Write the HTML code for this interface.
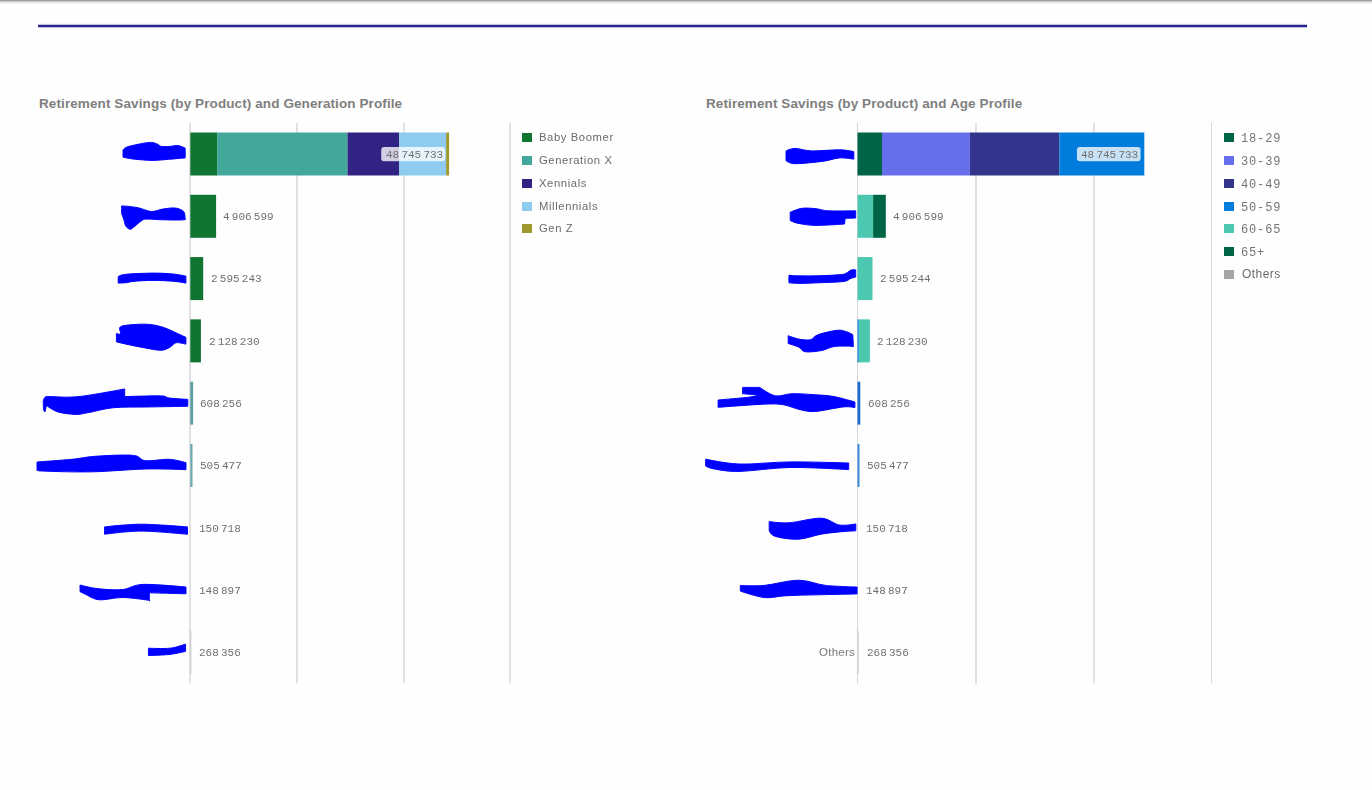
<!DOCTYPE html>
<html><head><meta charset="utf-8">
<style>
html,body{margin:0;padding:0;width:1372px;height:790px;overflow:hidden;background:#fefefe;position:relative;font-family:"Liberation Sans",sans-serif}
.topshade{position:absolute;left:0;top:0;width:1372px;height:5px;background:linear-gradient(#a0a0a0 0px,#a0a0a0 1px,#cac9cc 1px,#cac9cc 2px,#e6e4e8 2px,#e6e4e8 3px,#f4f3f5 3px,#f4f3f5 4px,#fcfbfd 4px,#fcfbfd 5px)}
.navy{position:absolute;left:38px;top:25px;width:1269px;height:2px;background:#23268a;box-shadow:0 1px 1px rgba(35,38,138,0.3),0 -1px 1px rgba(35,38,138,0.3)}
.title{position:absolute;top:96px;font:bold 13.5px "Liberation Sans",sans-serif;letter-spacing:0.1px;color:#7f7f7f;white-space:nowrap;line-height:16px}
.val{position:absolute;margin-top:1px;font:11px "Liberation Mono",monospace;color:#707070;white-space:nowrap;word-spacing:-4.4px;line-height:12px;will-change:transform}
.leg{position:absolute;font:11.25px "Liberation Sans",sans-serif;letter-spacing:0.6px;color:#6a6a6a;white-space:nowrap;line-height:14px;will-change:transform}
.legm{position:absolute;margin-top:2px;font:12px "Liberation Mono",monospace;letter-spacing:0.85px;color:#747474;white-space:nowrap;line-height:14px;will-change:transform}
.sw{position:absolute;width:10px;height:9px}
svg{position:absolute;left:0;top:0}
</style></head><body>
<div class="topshade"></div>
<div class="navy"></div>

<div class="title" style="left:39px">Retirement Savings (by Product) and Generation Profile</div>
<div class="title" style="left:706px">Retirement Savings (by Product) and Age Profile</div>

<svg width="1372" height="790" viewBox="0 0 1372 790">
  <!-- grid left -->
  <g fill="#c6c2ca">
    <rect x="189.5" y="122.8" width="1" height="560.5"/>
    <rect x="296.5" y="122.8" width="1" height="560.5"/>
    <rect x="403.5" y="122.8" width="1" height="560.5"/>
    <rect x="509.5" y="122.8" width="1" height="560.5"/>
    <rect x="975.5" y="122.8" width="1" height="560.5"/>
    <rect x="1093.5" y="122.8" width="1" height="560.5"/>
  </g>
  <g fill="#d8d4dc">
    <rect x="857" y="122.8" width="1" height="560.5"/>
    <rect x="1211" y="122.8" width="1" height="560.5"/>
  </g>
  <!-- left bars -->
  <rect x="190.3" y="132.5" width="26.8" height="43" fill="#117532"/>
  <rect x="217.1" y="132.5" width="130.4" height="43" fill="#43a89b"/>
  <rect x="347.5" y="132.5" width="51.8" height="43" fill="#312384"/>
  <rect x="399.3" y="132.5" width="46.8" height="43" fill="#8ecbee"/>
  <rect x="446.1" y="132.5" width="3" height="43" fill="#a09a2e"/>

  <rect x="190.3" y="194.79" width="25.8" height="43" fill="#117532"/>
  <rect x="190.3" y="257.08" width="12.9" height="43" fill="#117532"/>
  <rect x="190.3" y="319.37" width="10.6" height="43" fill="#117532"/>
  <rect x="190.3" y="381.66" width="2.8" height="43" fill="#5a9e9e"/>
  <rect x="190.3" y="443.95" width="2.2" height="43" fill="#6aaaae"/>
  <rect x="190.3" y="630.82" width="1" height="43" fill="#c8c8c8"/>

  <!-- right bars -->
  <rect x="857.5" y="132.5" width="24.5" height="43" fill="#006546"/>
  <rect x="882" y="132.5" width="87.9" height="43" fill="#676eeb"/>
  <rect x="969.9" y="132.5" width="89.4" height="43" fill="#33348b"/>
  <rect x="1059.3" y="132.5" width="85" height="43" fill="#007cdc"/>

  <rect x="857.5" y="194.79" width="15.6" height="43" fill="#4cc8b1"/>
  <rect x="873.1" y="194.79" width="12.7" height="43" fill="#006546"/>
  <rect x="857.5" y="257.08" width="15" height="43" fill="#4cc8b1"/>
  <rect x="857.5" y="319.37" width="1.3" height="43" fill="#007cdc"/>
  <rect x="858.8" y="319.37" width="11.1" height="43" fill="#4cc8b1"/>
  <rect x="857.5" y="381.66" width="2.8" height="43" fill="#1a6fcf"/>
  <rect x="857.5" y="443.95" width="2" height="43" fill="#3a8ad8"/>
  <rect x="857.5" y="630.82" width="1.2" height="43" fill="#cfcfcf"/>

  <!-- scribbles -->
  <g id="scr" fill="#0000ff" stroke="#0000ff" stroke-width="1" stroke-linejoin="round">
  <path d="M123.0,150.2 C123.0,150.2 123.6,148.0 127.9,146.7 C132.2,145.4 143.8,143.0 148.7,142.5 C153.5,142.0 154.9,143.2 157.0,143.9 C159.1,144.6 159.2,146.0 161.3,146.4 C163.4,146.8 166.8,146.5 169.6,146.4 C172.4,146.3 175.4,145.3 178.0,145.6 C180.6,145.9 185.2,148.1 185.2,148.1 C185.2,148.1 185.2,157.9 185.2,157.9 C185.2,157.9 175.0,158.8 169.6,159.2 C164.2,159.6 158.7,160.4 152.9,160.4 C147.1,160.4 139.8,159.7 134.8,159.2 C129.8,158.7 123.0,157.2 123.0,157.2 C123.0,157.2 123.0,150.2 123.0,150.2Z"/>
  <path d="M121.6,205.9 C121.6,205.9 125.0,206.0 127.9,206.3 C130.8,206.7 135.1,207.1 139.0,208.0 C142.9,208.9 147.6,211.3 151.5,211.5 C155.4,211.7 158.8,209.7 162.7,209.1 C166.6,208.5 171.7,207.6 175.2,208.0 C178.7,208.4 182.0,209.9 183.6,211.5 C185.2,213.1 185.0,217.7 185.0,217.7 C185.0,217.7 187.3,219.5 183.6,219.8 C179.9,220.2 168.7,219.9 162.7,219.8 C156.7,219.7 150.9,219.0 147.4,219.1 C143.9,219.2 144.1,219.1 141.8,220.5 C139.5,221.9 135.4,226.1 133.4,227.5 C131.4,228.9 131.3,229.4 130.0,229.2 C128.7,229.0 126.8,227.8 125.8,226.1 C124.8,224.4 124.4,221.2 123.7,219.1 C123.0,217.0 121.6,213.6 121.6,213.6 C121.6,213.6 121.6,205.9 121.6,205.9Z"/>
  <path d="M118.2,276.6 C118.2,276.6 120.0,274.9 125.8,274.3 C131.6,273.7 145.3,273.2 153.2,273.1 C161.0,273.1 167.4,273.5 172.9,274.0 C178.4,274.5 185.9,276.1 185.9,276.1 C185.9,276.1 185.9,283.1 185.9,283.1 C185.9,283.1 178.4,281.6 172.9,281.2 C167.4,280.8 159.5,280.4 153.2,280.4 C146.9,280.4 139.6,280.8 135.0,281.2 C130.4,281.6 128.6,282.4 125.8,282.7 C123.0,283.0 118.2,283.1 118.2,283.1 C118.2,283.1 118.2,276.6 118.2,276.6Z"/>
  <path d="M120.5,326.7 C122.9,325.2 130.1,324.9 135.0,324.5 C139.9,324.1 145.4,324.0 150.2,324.5 C155.0,325.0 159.5,326.1 163.8,327.5 C168.1,328.9 172.3,331.2 176.0,332.8 C179.7,334.4 185.9,337.4 185.9,337.4 C185.9,337.4 185.9,344.2 185.9,344.2 C185.9,344.2 178.7,342.2 176.0,342.7 C173.3,343.2 172.4,346.0 169.9,347.3 C167.4,348.6 164.9,350.2 160.8,350.3 C156.8,350.4 150.2,348.8 145.6,348.0 C141.0,347.2 138.3,346.7 133.4,345.7 C128.5,344.7 116.4,341.9 116.4,341.9 C116.4,341.9 116.4,333.6 116.4,333.6 C116.4,333.6 119.8,334.8 120.5,333.6 C121.2,332.5 118.1,328.2 120.5,326.7Z"/>
  <path d="M44.0,398.7 C44.0,398.7 45.1,396.9 46.0,396.5 C46.9,396.1 44.0,396.6 49.5,396.6 C55.0,396.6 66.2,397.9 78.7,396.6 C91.2,395.3 124.7,388.9 124.7,388.9 C124.7,388.9 124.7,396.6 124.7,396.6 C124.7,396.6 153.5,395.7 160.9,395.9 C168.3,396.1 164.8,397.4 169.3,398.0 C173.8,398.6 187.8,399.4 187.8,399.4 C187.8,399.4 187.8,406.3 187.8,406.3 C187.8,406.3 158.0,406.8 145.6,407.0 C133.2,407.2 123.1,406.8 113.6,407.7 C104.1,408.6 94.8,411.5 88.5,412.6 C82.2,413.7 81.1,414.5 76.0,414.4 C70.9,414.3 62.8,413.4 57.9,411.9 C53.0,410.4 46.5,405.5 46.5,405.5 C46.5,405.5 45.0,412.0 45.0,412.0 C45.0,412.0 43.5,410.0 43.5,410.0 C43.5,410.0 43.2,401.0 43.2,401.0 C43.2,401.0 44.0,398.7 44.0,398.7Z"/>
  <path d="M37.0,462.0 C37.0,462.0 62.5,460.2 71.8,459.3 C81.1,458.4 84.6,457.2 92.7,456.5 C100.8,455.8 113.3,455.2 120.5,455.1 C127.7,455.0 131.6,454.9 135.8,455.8 C140.0,456.7 140.0,460.1 145.6,460.7 C151.2,461.3 162.6,459.0 169.3,459.3 C176.0,459.6 186.0,462.7 186.0,462.7 C186.0,462.7 186.0,469.7 186.0,469.7 C186.0,469.7 161.2,468.6 145.6,469.0 C130.0,469.4 109.7,471.4 92.7,471.8 C75.8,472.2 53.2,471.5 43.9,471.1 C34.6,470.8 37.0,469.7 37.0,469.7 C37.0,469.7 37.0,462.0 37.0,462.0Z"/>
  <path d="M104.5,526.9 C104.5,526.9 127.2,524.2 141.0,524.2 C154.8,524.2 187.5,526.9 187.5,526.9 C187.5,526.9 187.5,534.3 187.5,534.3 C187.5,534.3 154.8,531.1 141.0,531.1 C127.2,531.1 104.5,534.3 104.5,534.3 C104.5,534.3 104.5,526.9 104.5,526.9Z"/>
  <path d="M80.0,585.0 C80.0,585.0 90.2,587.8 97.2,588.6 C104.2,589.4 114.6,590.3 122.2,589.6 C129.8,588.9 132.4,584.8 143.0,584.4 C153.6,584.0 186.0,587.0 186.0,587.0 C186.0,587.0 186.0,593.8 186.0,593.8 C186.0,593.8 149.4,592.8 149.4,592.8 C149.4,592.8 149.4,601.0 149.4,601.0 C149.4,601.0 151.6,600.6 147.0,600.0 C142.4,599.4 130.0,597.5 122.0,597.5 C114.0,597.5 105.2,600.4 99.0,599.8 C92.8,599.2 88.2,595.4 85.0,594.0 C81.8,592.6 80.0,591.7 80.0,591.7 C80.0,591.7 80.0,585.0 80.0,585.0Z"/>
  <path d="M148.4,648.2 C148.4,648.2 164.1,648.9 170.3,648.2 C176.5,647.5 185.6,644.0 185.6,644.0 C185.6,644.0 185.6,651.3 185.6,651.3 C185.6,651.3 176.2,653.7 170.0,654.4 C163.8,655.1 148.4,655.5 148.4,655.5 C148.4,655.5 148.4,648.2 148.4,648.2Z"/>
  <path d="M786.0,150.9 C786.0,150.9 790.7,148.4 795.0,148.4 C799.3,148.4 804.4,150.7 811.8,150.9 C819.2,151.1 832.6,149.7 839.6,149.8 C846.6,149.9 853.8,151.6 853.8,151.6 C853.8,151.6 853.8,159.2 853.8,159.2 C853.8,159.2 844.8,157.6 839.6,157.9 C834.5,158.2 830.3,160.3 822.9,161.3 C815.5,162.3 801.1,163.8 795.0,163.7 C788.9,163.6 786.0,160.6 786.0,160.6 C786.0,160.6 786.0,150.9 786.0,150.9Z"/>
  <path d="M790.2,212.2 C790.2,212.2 797.7,208.9 802.0,208.3 C806.3,207.7 811.6,208.3 816.0,208.7 C820.4,209.1 821.9,210.5 828.5,210.8 C835.1,211.2 855.7,210.8 855.7,210.8 C855.7,210.8 855.7,218.0 855.7,218.0 C855.7,218.0 845.2,218.4 845.2,218.4 C845.2,218.4 844.5,224.0 844.5,224.0 C844.5,224.0 823.8,225.5 816.0,225.4 C808.2,225.3 802.2,224.1 797.9,223.3 C793.6,222.5 790.2,220.5 790.2,220.5 C790.2,220.5 790.2,212.2 790.2,212.2Z"/>
  <path d="M788.9,275.2 C788.9,275.2 791.6,275.7 796.5,275.8 C801.4,275.9 810.6,276.0 818.0,275.8 C825.4,275.6 835.9,275.1 840.8,274.6 C845.6,274.1 845.4,273.4 847.1,272.7 C848.8,271.9 849.5,270.6 850.9,270.1 C852.3,269.6 855.7,269.9 855.7,269.9 C855.7,269.9 855.7,277.1 855.7,277.1 C855.7,277.1 853.0,277.7 850.9,278.4 C848.8,279.1 848.8,280.8 843.3,281.5 C837.8,282.2 825.4,282.5 818.0,282.8 C810.6,283.1 803.9,283.4 799.0,283.4 C794.1,283.4 788.9,282.8 788.9,282.8 C788.9,282.8 788.9,275.2 788.9,275.2Z"/>
  <path d="M788.2,335.7 C788.2,335.7 795.3,338.4 799.0,339.1 C802.7,339.8 807.2,340.4 810.4,339.7 C813.6,339.0 813.6,336.3 818.0,334.7 C822.4,333.1 832.4,330.8 837.0,330.3 C841.6,329.8 843.2,330.8 845.8,331.5 C848.4,332.2 852.8,334.7 852.8,334.7 C852.8,334.7 853.4,346.7 853.4,346.7 C853.4,346.7 849.2,346.1 845.8,346.1 C842.4,346.1 837.2,346.0 833.2,346.7 C829.2,347.4 826.4,349.6 821.8,350.5 C817.1,351.4 809.1,352.3 805.3,351.8 C801.5,351.3 801.9,348.7 799.0,347.3 C796.1,345.9 788.2,343.5 788.2,343.5 C788.2,343.5 788.2,335.7 788.2,335.7Z"/>
  <path d="M718.1,400.0 C718.1,400.0 742.0,398.0 748.7,397.2 C755.4,396.4 758.5,395.1 758.5,395.1 C758.5,395.1 742.5,393.7 742.5,393.7 C742.5,393.7 742.5,387.4 742.5,387.4 C742.5,387.4 759.9,387.4 759.9,387.4 C759.9,387.4 769.9,394.8 775.2,395.8 C780.5,396.9 785.2,393.9 791.9,393.7 C798.6,393.5 808.6,394.3 815.6,394.8 C822.6,395.3 827.2,395.3 833.7,396.5 C840.2,397.7 854.9,402.0 854.9,402.0 C854.9,402.0 854.9,407.6 854.9,407.6 C854.9,407.6 850.0,406.3 843.5,406.9 C837.0,407.5 822.8,410.9 815.6,411.4 C808.4,411.9 805.6,410.8 800.3,409.7 C795.0,408.6 789.4,405.7 783.6,404.8 C777.8,403.9 776.4,403.7 765.5,404.1 C754.6,404.5 718.1,407.3 718.1,407.3 C718.1,407.3 718.1,400.0 718.1,400.0Z"/>
  <path d="M705.6,459.1 C705.6,459.1 724.9,463.5 739.0,464.0 C753.1,464.5 772.2,462.1 790.5,461.9 C808.8,461.7 848.7,463.0 848.7,463.0 C848.7,463.0 848.7,469.6 848.7,469.6 C848.7,469.6 808.8,467.2 790.5,467.5 C772.2,467.8 751.8,471.2 739.0,471.4 C726.2,471.6 719.5,469.8 713.9,468.9 C708.3,468.0 705.6,466.1 705.6,466.1 C705.6,466.1 705.6,459.1 705.6,459.1Z"/>
  <path d="M769.2,521.6 C769.2,521.6 780.6,523.4 789.2,522.8 C797.9,522.2 812.7,517.8 821.1,518.2 C829.5,518.6 833.6,524.0 839.4,525.0 C845.2,526.0 855.8,523.9 855.8,523.9 C855.8,523.9 855.8,530.8 855.8,530.8 C855.8,530.8 845.2,531.3 839.4,531.9 C833.6,532.5 827.8,533.0 821.0,534.2 C814.2,535.4 806.0,538.8 798.4,539.2 C790.8,539.6 780.5,537.9 775.6,536.5 C770.7,535.1 769.2,530.8 769.2,530.8 C769.2,530.8 769.2,521.6 769.2,521.6Z"/>
  <path d="M740.3,585.4 C740.3,585.4 754.5,586.3 764.2,585.4 C773.9,584.5 788.1,580.2 798.4,580.2 C808.6,580.2 815.9,584.3 825.7,585.4 C835.5,586.5 857.1,587.0 857.1,587.0 C857.1,587.0 857.1,593.9 857.1,593.9 C857.1,593.9 837.4,594.3 825.7,594.6 C814.0,594.9 797.2,595.2 787.0,595.7 C776.8,596.2 772.0,598.3 764.2,597.5 C756.4,596.7 740.3,591.1 740.3,591.1 C740.3,591.1 740.3,585.4 740.3,585.4Z"/>
  </g>
  <!-- in-bar labels -->
  <rect x="381.2" y="147" width="64" height="14.2" rx="3" fill="#fff" fill-opacity="0.78"/>
  <rect x="1076.9" y="147" width="63.7" height="14.2" rx="3" fill="#fff" fill-opacity="0.78"/>
</svg>

<!-- values left -->
<div class="val" style="left:385.5px;top:148px">48 745 733</div>
<div class="val" style="left:223px;top:210px">4 906 599</div>
<div class="val" style="left:211px;top:272px">2 595 243</div>
<div class="val" style="left:208.7px;top:335px">2 128 230</div>
<div class="val" style="left:199.6px;top:397px">608 256</div>
<div class="val" style="left:199.5px;top:459px">505 477</div>
<div class="val" style="left:198.5px;top:522px">150 718</div>
<div class="val" style="left:198.5px;top:584px">148 897</div>
<div class="val" style="left:198.5px;top:646px">268 356</div>

<!-- values right -->
<div class="val" style="left:1081px;top:148px">48 745 733</div>
<div class="val" style="left:893px;top:210px">4 906 599</div>
<div class="val" style="left:880px;top:272px">2 595 244</div>
<div class="val" style="left:877px;top:335px">2 128 230</div>
<div class="val" style="left:867.5px;top:397px">608 256</div>
<div class="val" style="left:867px;top:459px">505 477</div>
<div class="val" style="left:865.5px;top:522px">150 718</div>
<div class="val" style="left:865.5px;top:584px">148 897</div>
<div class="val" style="left:866.5px;top:646px">268 356</div>

<div class="leg" style="left:819px;top:645px;color:#777;font-size:11.5px;letter-spacing:0.25px">Others</div>

<!-- legend left -->
<div class="sw" style="left:522px;top:133px;background:#117532"></div>
<div class="sw" style="left:522px;top:156px;background:#43a89b"></div>
<div class="sw" style="left:522px;top:178.5px;background:#312384"></div>
<div class="sw" style="left:522px;top:201.5px;background:#8ecbee"></div>
<div class="sw" style="left:522px;top:224px;background:#a09a2e"></div>
<div class="leg" style="left:539px;top:130px">Baby Boomer</div>
<div class="leg" style="left:539px;top:153px">Generation X</div>
<div class="leg" style="left:539px;top:175.5px">Xennials</div>
<div class="leg" style="left:539px;top:198.5px">Millennials</div>
<div class="leg" style="left:539px;top:221px">Gen Z</div>

<!-- legend right -->
<div class="sw" style="left:1224px;top:133px;background:#006546"></div>
<div class="sw" style="left:1224px;top:156px;background:#676eeb"></div>
<div class="sw" style="left:1224px;top:178.5px;background:#33348b"></div>
<div class="sw" style="left:1224px;top:201.5px;background:#007cdc"></div>
<div class="sw" style="left:1224px;top:224px;background:#4cc8b1"></div>
<div class="sw" style="left:1224px;top:246.5px;background:#006546"></div>
<div class="sw" style="left:1224px;top:269.5px;background:#a5a5a5"></div>
<div class="legm" style="left:1241px;top:130px">18-29</div>
<div class="legm" style="left:1241px;top:153px">30-39</div>
<div class="legm" style="left:1241px;top:175.5px">40-49</div>
<div class="legm" style="left:1241px;top:198.5px">50-59</div>
<div class="legm" style="left:1241px;top:221px">60-65</div>
<div class="legm" style="left:1241px;top:243.5px">65+</div>
<div class="leg" style="left:1241.5px;top:267px;letter-spacing:0.45px;font-size:12px">Others</div>

</body></html>
